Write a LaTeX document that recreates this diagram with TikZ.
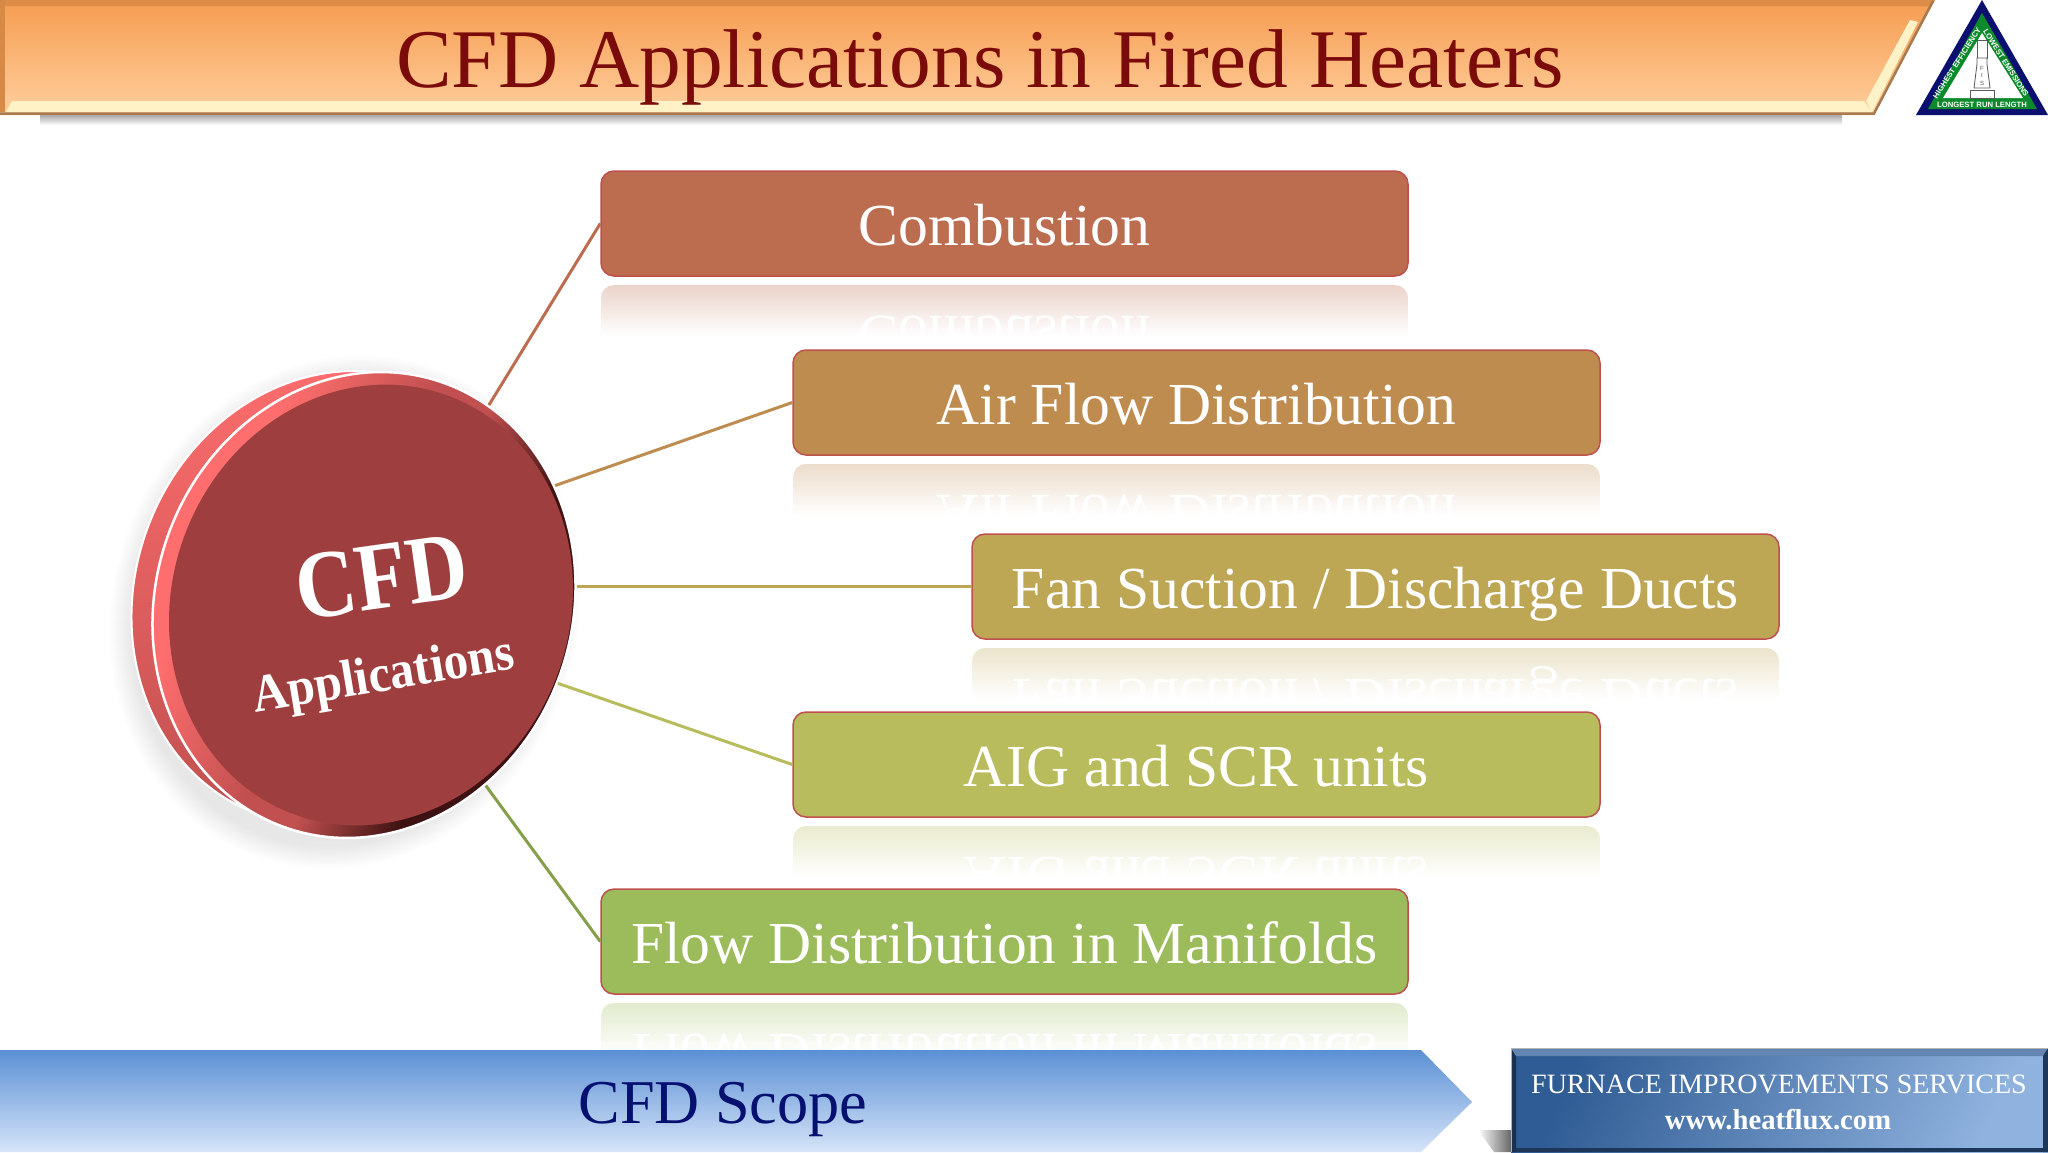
\documentclass[tikz,border=0pt]{standalone}
\usepackage{fontspec}
\usepackage{graphicx}
\usetikzlibrary{shapes.geometric}
\setmainfont{Liberation Serif}
\newfontfamily\logofont{Liberation Sans}
\definecolor{boxa}{HTML}{BC6C4F}
\definecolor{boxb}{HTML}{BF8C50}
\definecolor{boxc}{HTML}{BDA654}
\definecolor{boxd}{HTML}{B8BC5C}
\definecolor{boxe}{HTML}{9CBB5A}
\definecolor{edgered}{HTML}{C0504D}
\definecolor{titlered}{HTML}{7B0A0A}
\definecolor{scopeblue}{HTML}{061070}
\definecolor{logonavy}{HTML}{0B1070}
\definecolor{logogreen}{HTML}{0A8A2A}
\definecolor{bartop}{HTML}{F59C50}
\definecolor{barlow}{HTML}{FFCF9E}
\definecolor{barpale}{HTML}{FFF2C6}
\definecolor{barline}{HTML}{A87A50}
\definecolor{bright}{HTML}{FF6E6E}
\definecolor{midred}{HTML}{C25050}
\definecolor{darkred}{HTML}{3E1212}
\definecolor{facered}{HTML}{9E3E3E}
\definecolor{arrowtop}{HTML}{5B90D4}
\definecolor{arrowlow}{HTML}{D6E4F9}
\definecolor{plateleft}{HTML}{2F5C94}
\definecolor{plateright}{HTML}{8FB2DE}
\pgfdeclarehorizontalshading{discshade}{100bp}{color(0bp)=(bright);color(34bp)=(bright);color(48bp)=(midred);color(54bp)=(midred);color(64bp)=(darkred);color(100bp)=(darkred)}
\newcommand\fs[1]{\fontsize{#1}{#1}\selectfont}
\tikzset{
  appbox/.style={draw=edgered,line width=1.5pt,rounded corners=13pt,minimum width=807pt,minimum height=105pt,inner sep=0pt,text=white,font=\fs{59.6},text height=50pt,text depth=7pt},
  link/.style={line width=3pt},
  disctext/.style={text=white,inner sep=0pt},
  logotext/.style={text=white,inner sep=0pt,font=\logofont\bfseries\fs{7.7}},
  stackline/.style={draw=gray!70!black,line width=0.8pt,fill=white},
  discpart/.style={ellipse,inner sep=0pt,rotate=-20}
}
% name, left, top, colour, text
\newcommand\appbox[5]{%
  \begin{scope}
    \clip[rounded corners=13pt] (#2,#3+114) rectangle (#2+807,#3+190);
    \path[top color=#4!30!white,bottom color=white] (#2,#3+114) rectangle (#2+807,#3+165);
    \node[text=white,inner sep=0pt,font=\fs{59.6},anchor=base] (#1r) at (#2+403.5,#3+145) {\scalebox{1}[-1]{#5}};
    \fill[white] (#2,#3+165) rectangle (#2+807,#3+190);
  \end{scope}
  \node[appbox,fill=#4] (#1) at (#2+403.5,#3+52.5) {#5};
}
\begin{document}
\begin{tikzpicture}[x=1pt,y=-1pt]
\useasboundingbox (0,0) rectangle (2048,1152);
\fill[white] (0,0) rectangle (2048,1152);

% title banner
\path[top color=gray!75,bottom color=white] (40,114) rectangle (1842,125);
\path[top color=bartop,bottom color=barlow] (0,0) -- (1935,0) -- (1873,115) -- (0,115) -- cycle;
\fill[bartop!90!black] (0,0) -- (1935,0) -- (1931,6) -- (0,6) -- cycle;
\fill[barpale] (6,112) -- (12,101) -- (1864,101) -- (1872,112) -- cycle;
\fill[barpale] (1872,112) -- (1866,101) -- (1910,20) -- (1918,22) -- cycle;
\fill[bartop!88!black] (0,0) -- (5,0) -- (5,112) -- (0,112) -- cycle;
\draw[barline,line width=2.5pt] (0,113.5) -- (1874,113.5) -- (1933,1);
\node[text=titlered,inner sep=0pt,font=\fs{83.4}] (title) at (980,67) {CFD Applications in Fired Heaters};

% logo
\fill[logonavy] (1982,0) -- (2048,115) -- (1916,115) -- cycle;
\fill[logogreen] (1982,13) -- (2037,109) -- (1928,109) -- cycle;
\fill[white] (1982,33) -- (2023,98) -- (1943,98) -- cycle;
\draw[stackline] (1977,40) -- (1987,40) -- (1987,58) -- (1977,58) -- cycle;
\draw[stackline] (1977,58) -- (1987,58) -- (1987,64) -- (1990,88) -- (1974,88) -- (1977,64) -- cycle;
\draw[stackline] (1970,90) -- (1994,90) -- (1994,98) -- (1970,98) -- cycle;
\node[inner sep=0pt,text=gray!70!black,font=\logofont\fs{6}] (logof) at (1982,68) {F};
\node[inner sep=0pt,text=gray!70!black,font=\logofont\fs{6}] (logoi) at (1982,75) {I};
\node[inner sep=0pt,text=gray!70!black,font=\logofont\fs{6}] (logos) at (1982,83) {S};
\node[logotext,rotate=57.5] (logoa) at (1957,63) {HIGHEST EFFICIENCY};
\node[logotext,rotate=-57.5] (logob) at (2006,63) {LOWEST EMISSIONS};
\node[logotext] (logoc) at (1982,105) {LONGEST RUN LENGTH};

% reflected boxes and boxes
\appbox{combustion}{601}{171}{boxa}{Combustion}
\appbox{airflow}{793}{350}{boxb}{Air Flow Distribution}
\appbox{fan}{972}{534}{boxc}{Fan Suction / Discharge Ducts}
\appbox{aig}{793}{712}{boxd}{AIG and SCR units}
\appbox{manifold}{601}{889}{boxe}{Flow Distribution in Manifolds}

% disc
\foreach \g in {2,4,...,24}
  \fill[black,opacity=.008,rotate around={-20:(345,612)}] (345,612) ellipse ({208+\g} and {236+\g});
\node[discpart,minimum width=404pt,minimum height=460pt,draw=white,line width=2pt,shade,top color=bright,bottom color=midred] (discback) at (337,598) {};
\node[discpart,minimum width=416pt,minimum height=472pt,draw=white,line width=2.5pt,shading=discshade,shading angle=-25] (discside) at (364,605) {};
\node[discpart,minimum width=398pt,minimum height=446pt,fill=facered] (discface) at (371,605) {};
\node[disctext,rotate=8,font=\bfseries\fs{84}] (cfdtext) at (382,577) {\scalebox{1}[1.15]{CFD}};
\node[disctext,rotate=9.5,font=\bfseries\fs{49}] (apptext) at (384,678) {\scalebox{1}[1.08]{Applications}};

% connectors
\draw[link,draw=boxa] (discside.78.6) -- (combustion.west);
\draw[link,draw=boxb] (discside.52) -- (airflow.west);
\draw[link,draw=boxc] (discside.25 |- fan.west) -- (fan.west);
\draw[link,draw=boxd] (discside.-2) -- (aig.west);
\draw[link,draw=boxe!85!black] (discside.-36.4) -- (manifold.west);

% scope arrow
\path[top color=arrowtop,bottom color=arrowlow] (0,1050) -- (1421,1050) -- (1472,1102) -- (1421,1152) -- (0,1152) -- cycle;
\node[text=scopeblue,inner sep=0pt,font=\fs{62.3}] (scope) at (723,1109) {CFD Scope};

% footer plate
\path[left color=white,right color=gray!80!black] (1478,1130) -- (1511,1130) -- (1511,1152) -- (1494,1152) -- cycle;
\path[shade,left color=plateleft,right color=plateright,shading angle=65] (1511,1048) rectangle (2048,1152);
\fill[plateleft!55!black] (1511,1048) -- (1516,1054) -- (1516,1152) -- (1511,1152) -- cycle;
\fill[plateleft!75!white] (1511,1048) -- (2048,1048) -- (2043,1056) -- (1516,1056) -- cycle;
\fill[plateleft!60!black] (1516,1148) rectangle (2048,1152);
\fill[plateleft!60!black] (2043,1056) -- (2048,1048) -- (2048,1152) -- (2043,1152) -- cycle;
\draw[gray!60,line width=1pt] (1511,1152) -- (1511,1048) -- (2048,1048);
\node[text=white,inner sep=0pt,font=\fs{28}] (plateone) at (1779,1084) {FURNACE IMPROVEMENTS SERVICES};
\node[text=white,inner sep=0pt,font=\bfseries\fs{28.7}] (platetwo) at (1778,1120) {www.heatflux.com};
\end{tikzpicture}
\end{document}
